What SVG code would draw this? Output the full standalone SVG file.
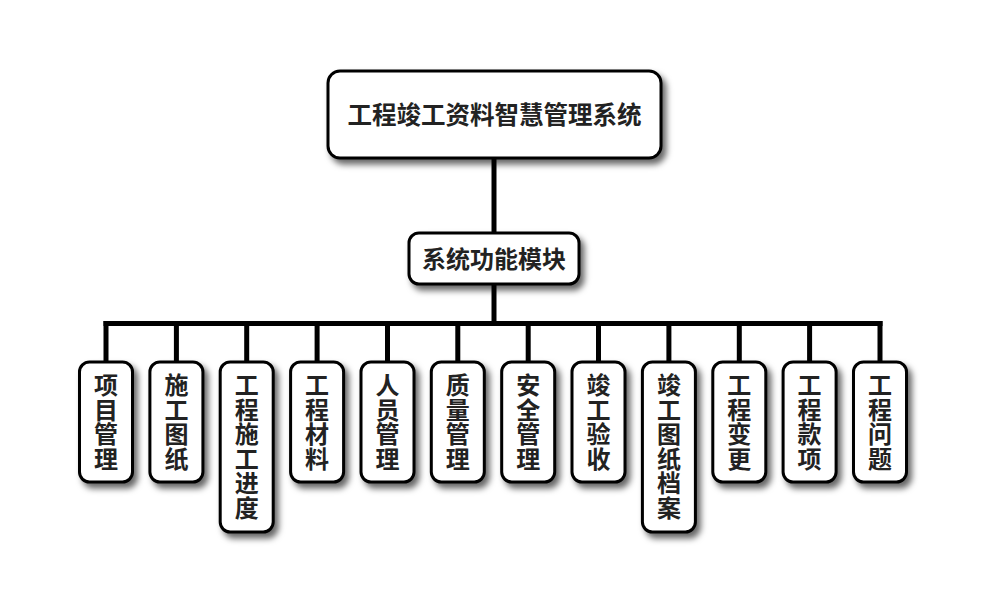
<svg xmlns="http://www.w3.org/2000/svg" width="987" height="607" viewBox="0 0 987 607">
  <defs>
    <filter id="shadow" x="-20%" y="-20%" width="150%" height="150%">
      <feDropShadow dx="4" dy="5" stdDeviation="3" flood-color="#000" flood-opacity="0.6"/>
    </filter>
  </defs>
  <style>
    .box { fill: #fff; stroke: #000; stroke-width: 3; filter: url(#shadow); }
    .wire { stroke: #000; stroke-width: 5; fill: none; }
    text { font-family: "Noto Sans CJK SC", "Noto Sans", sans-serif; font-weight: 700; font-size: 24px; fill: #222; text-anchor: middle; }
    text.big { font-size: 24.5px; }
    text.col { writing-mode: vertical-rl; text-anchor: start; letter-spacing: 0.5px; }
  </style>
  <rect width="987" height="607" fill="#fff"/>

  <g id="connectors">
    <line class="wire" x1="494" y1="158" x2="494" y2="232"/>
    <line class="wire" x1="494" y1="284" x2="494" y2="323.5"/>
    <line class="wire" x1="103.5" y1="323.5" x2="882.5" y2="323.5"/>
    <path class="wire" d="M106 321V362M176.4 321V362M246.7 321V362M317.1 321V362M387.5 321V362M457.8 321V362M528.2 321V362M598.5 321V362M668.9 321V362M739.3 321V362M809.6 321V362M880 321V362"/>
  </g>

  <g id="root">
    <rect class="box" x="328" y="71" width="333" height="87" rx="12"/>
    <text class="big" x="494.5" y="124">工程竣工资料智慧管理系统</text>
  </g>

  <g id="modules">
    <rect class="box" x="409" y="233" width="170" height="51" rx="10"/>
    <text x="494" y="268">系统功能模块</text>
  </g>

  <g id="leaf1">
    <rect class="box" x="79.5" y="362" width="53" height="120" rx="10"/>
    <text class="col" x="106" y="373">项目管理</text>
  </g>
  <g id="leaf2">
    <rect class="box" x="149.9" y="362" width="53" height="120" rx="10"/>
    <text class="col" x="176.4" y="373">施工图纸</text>
  </g>
  <g id="leaf3">
    <rect class="box" x="220.2" y="362" width="53" height="170" rx="10"/>
    <text class="col" x="246.7" y="373">工程施工进度</text>
  </g>
  <g id="leaf4">
    <rect class="box" x="290.6" y="362" width="53" height="120" rx="10"/>
    <text class="col" x="317.1" y="373">工程材料</text>
  </g>
  <g id="leaf5">
    <rect class="box" x="361" y="362" width="53" height="120" rx="10"/>
    <text class="col" x="387.5" y="373">人员管理</text>
  </g>
  <g id="leaf6">
    <rect class="box" x="431.3" y="362" width="53" height="120" rx="10"/>
    <text class="col" x="457.8" y="373">质量管理</text>
  </g>
  <g id="leaf7">
    <rect class="box" x="501.7" y="362" width="53" height="120" rx="10"/>
    <text class="col" x="528.2" y="373">安全管理</text>
  </g>
  <g id="leaf8">
    <rect class="box" x="572" y="362" width="53" height="120" rx="10"/>
    <text class="col" x="598.5" y="373">竣工验收</text>
  </g>
  <g id="leaf9">
    <rect class="box" x="642.4" y="362" width="53" height="170" rx="10"/>
    <text class="col" x="668.9" y="373">竣工图纸档案</text>
  </g>
  <g id="leaf10">
    <rect class="box" x="712.8" y="362" width="53" height="120" rx="10"/>
    <text class="col" x="739.3" y="373">工程变更</text>
  </g>
  <g id="leaf11">
    <rect class="box" x="783.1" y="362" width="53" height="120" rx="10"/>
    <text class="col" x="809.6" y="373">工程款项</text>
  </g>
  <g id="leaf12">
    <rect class="box" x="853.5" y="362" width="53" height="120" rx="10"/>
    <text class="col" x="880" y="373">工程问题</text>
  </g>
</svg>
